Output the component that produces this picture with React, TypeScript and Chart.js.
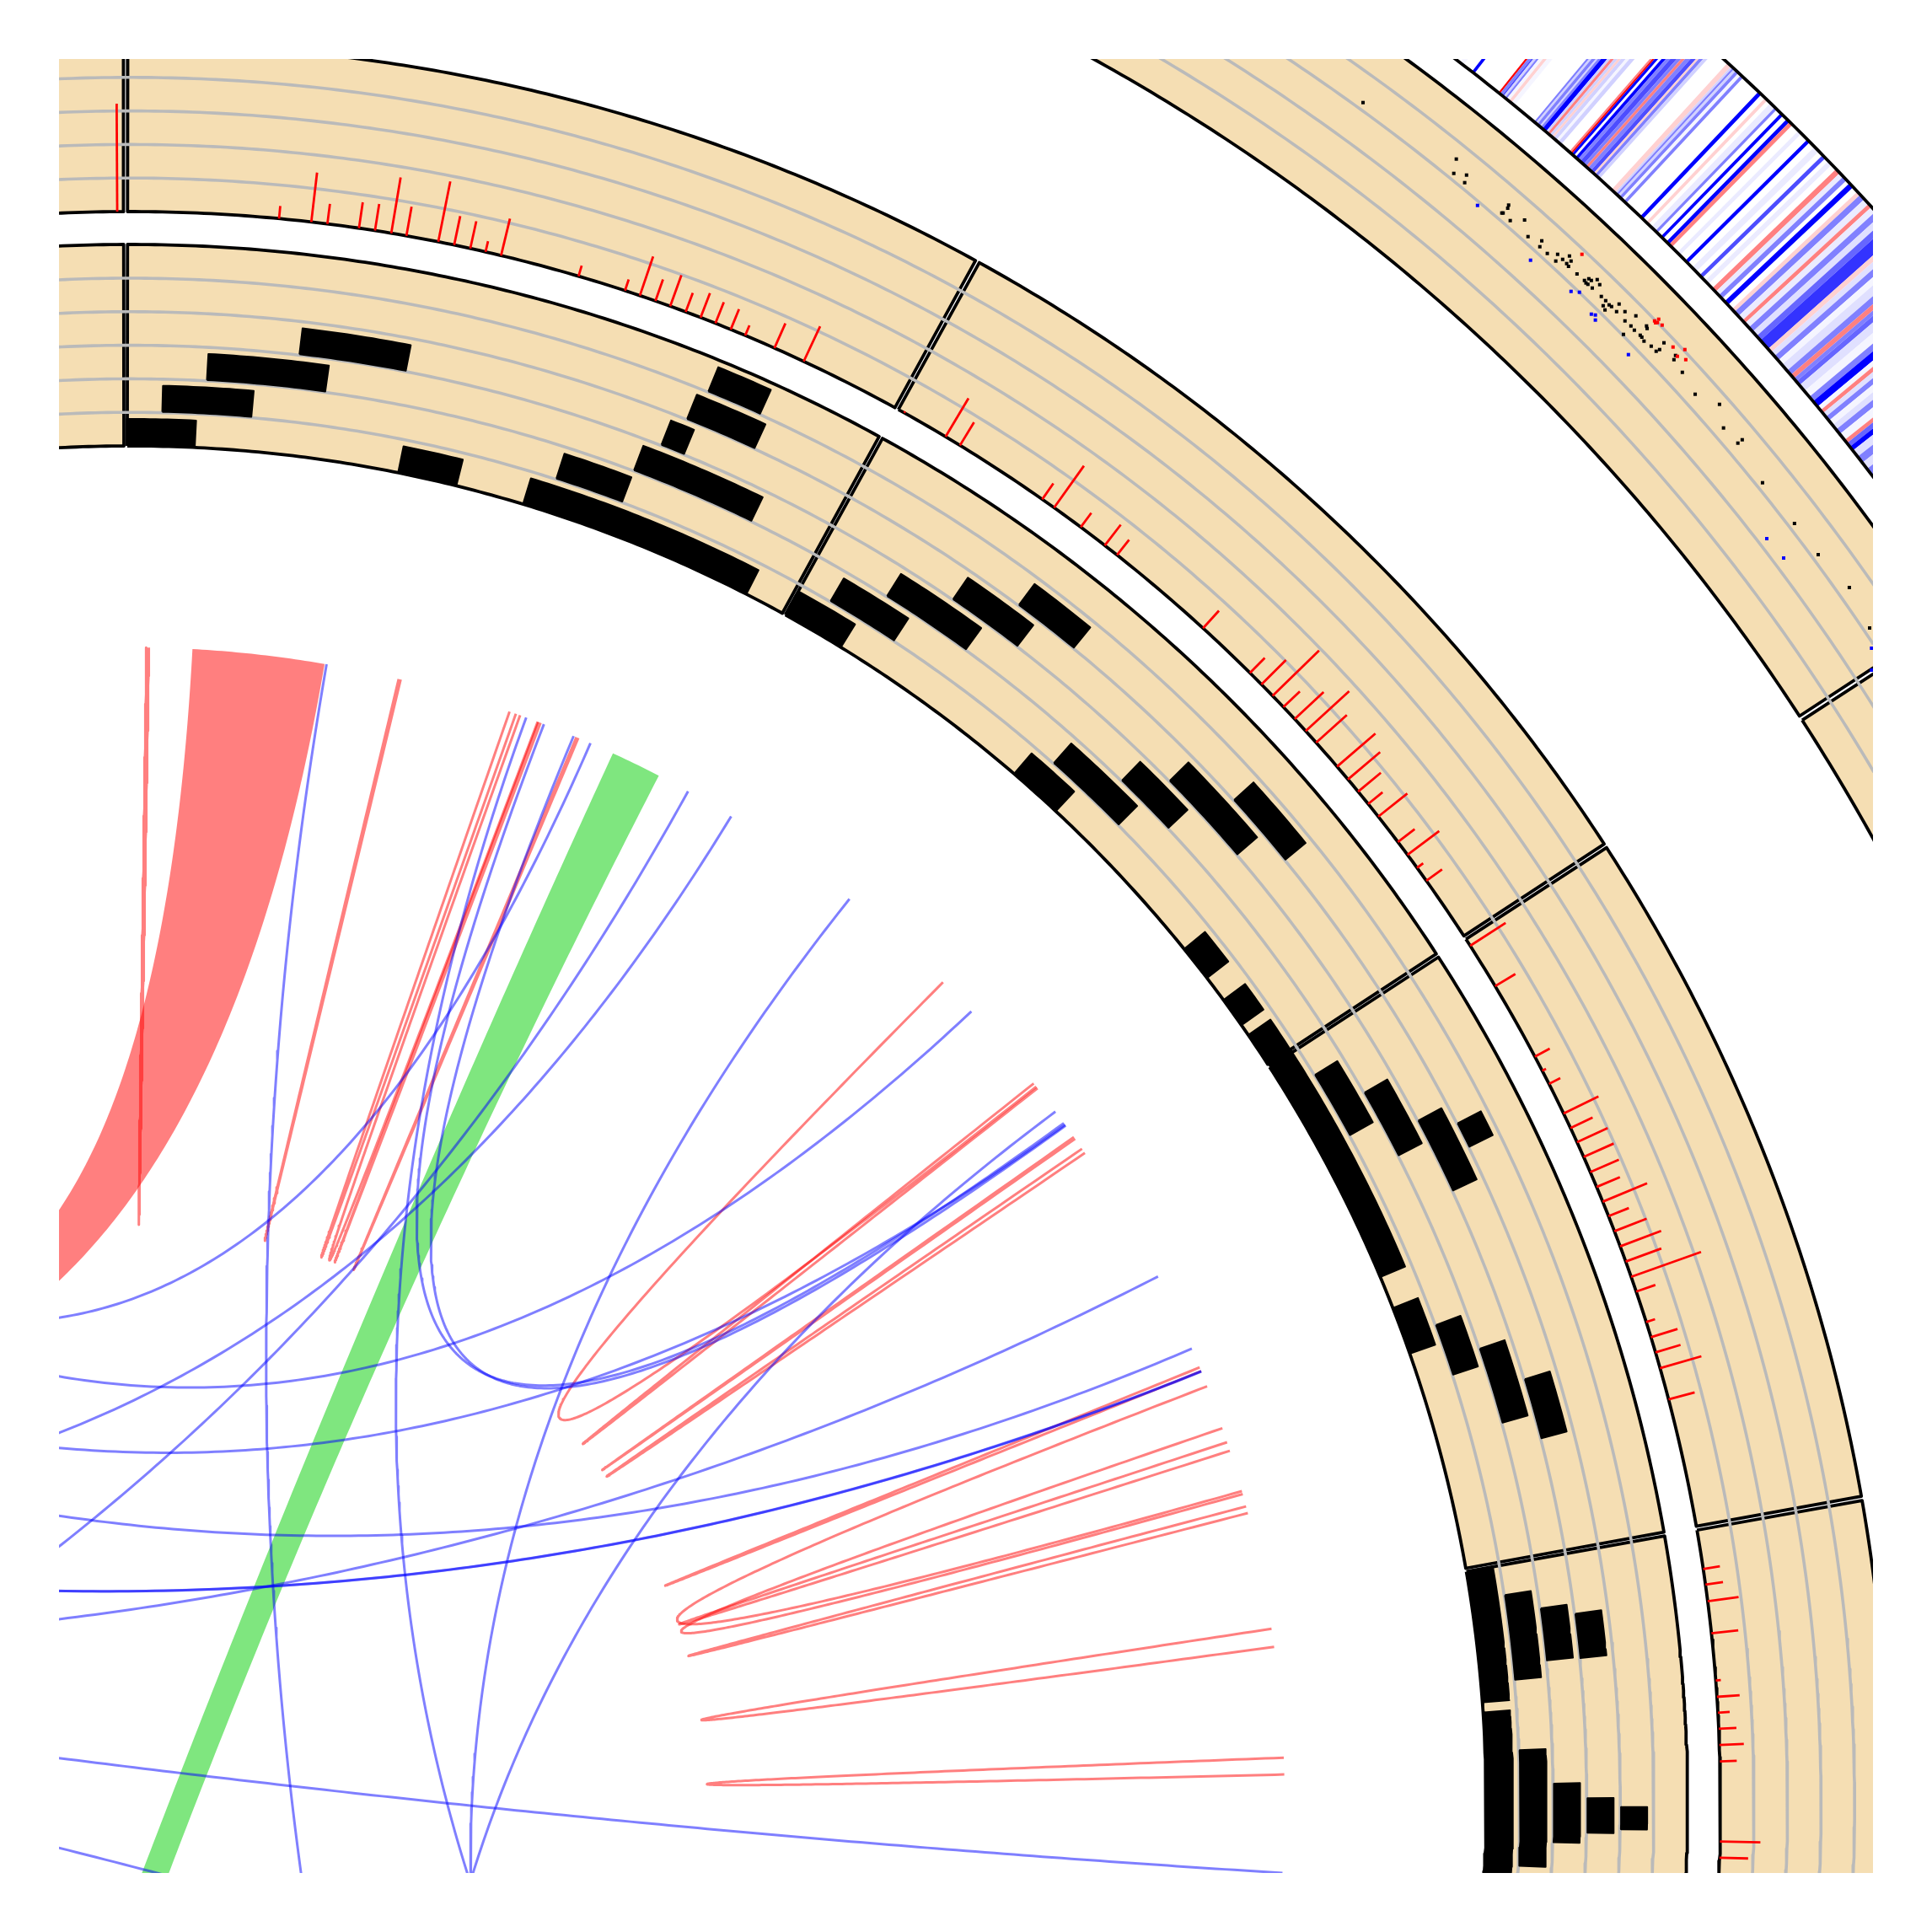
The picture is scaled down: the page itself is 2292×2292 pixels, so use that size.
import React, { useEffect, useRef } from "react";
import { Chart, registerables } from "chart.js";

Chart.register(...registerables);

// ---- geometry: rings are circles about the chart origin; angles are read as bearings
// from the point where the sector dividers meet (readingOrigin, slightly off the ring centre)
const readingOrigin = { x: -5, y: -12 };
const sectorBreaks = [-12, 0, 28.78, 56.85, 79.75, 102];
const track1Radii = [1609, 1648.8, 1688.6, 1728.4, 1768.2, 1808, 1848];
const track2Radii = [1887, 1926.8, 1966.6, 2006.4, 2046.2, 2086];
const track3Radii = [2363, 2403, 2443, 2483, 2523, 2563];
const track3Sectors = [24, 56.85, 70];
const heatInner = 2598;
const heatOuter = 2802;

// ---- black histogram tiles of track 1
const barStart = [0.05, 11.5, 16.9, 28.85, 40.55, 50.8, 53.5, 55.3, 56.85, 68.3, 79.85, 85.79,
  1.5, 17.9, 30.2, 41.5, 58.2, 69.6, 81.05, 87.45,
  3.25, 20.75, 32.05, 44, 59.85, 71.1, 81.8, 88.85,
  6.8, 21.4, 34.3, 45.35, 61.85, 72.8, 82.2, 89.45,
  21.95, 36.5, 47.6, 62.65, 89.8,
  22.3];
const barEnd = [2.9, 14, 27, 31.55, 42.9, 52.35, 54.8, 56.85, 66.9, 70.35, 85.37, 93,
  5.15, 20.75, 33.25, 45.15, 61.05, 71.75, 84.55, 92.2,
  8, 25.85, 35.85, 46.65, 62.7, 74.2, 83.9, 91.2,
  11, 22.35, 37.4, 49.25, 64.9, 75.2, 83.95, 90.8,
  24.75, 39.15, 50.6, 63.65, 90.65,
  24.4];
const barLevel = [0, 0, 0, 0, 0, 0, 0, 0, 0, 0, 0, 0,
  1, 1, 1, 1, 1, 1, 1, 1,
  2, 2, 2, 2, 2, 2, 2, 2,
  3, 3, 3, 3, 3, 3, 3, 3,
  4, 4, 4, 4, 4,
  5];

// ---- red histogram spikes of track 2
const spikeAngle = [-0.3, 5.5, 6.66, 7.24, 8.38, 8.96, 9.55, 10.1, 11.26, 11.84, 12.43, 12.99, 13.56,
  16.43, 18.17, 18.73, 19.32, 19.88, 20.47, 21.04, 21.61, 22.2, 22.76, 23.9, 25.05,
  29.09, 30.8, 31.4, 34.92, 35.44, 36.62, 37.7, 38.26, 42.3, 44.62, 45.2, 45.77, 46.33, 46.92, 47.5, 48.06,
  49.2, 49.8, 50.37, 50.94, 51.52, 52.67, 53.24, 53.82, 54.39,
  57.2, 58.9, 61.8, 62.37, 62.9, 64.08, 64.66, 65.22, 65.8, 66.39, 66.97, 67.54, 68.1, 68.68, 69.26, 69.84,
  70.42, 70.98, 72.13, 72.7, 73.27, 73.86, 75.02,
  81.23, 81.8, 82.4, 83.56, 85.26, 85.85, 86.42, 87, 87.58, 88.17, 91.05, 91.63];
const spikeHeight = [128, 15, 59, 24, 31, 32, 67, 35, 73, 35, 33, 13, 45,
  13, 14, 49, 27, 39, 24, 31, 27, 26, 13, 32, 46,
  2, 53, 32, 23, 61, 21, 31, 23, 28, 25, 41, 77, 27, 47, 70, 49,
  60, 50, 35, 22, 44, 25, 47, 9, 23,
  50, 28, 20, 5, 15, 46, 29, 40, 39, 37, 30, 57, 26, 41, 52, 45,
  88, 24, 11, 33, 31, 51, 32,
  20, 21, 37, 32, 6, 27, 14, 21, 29, 20, 48, 34];

// ---- scatter of track 3, as read (x stretched, origin at the reading origin)
const blackX = [1475.4, 1586.6, 1583.6, 1598.8, 1596.6, 1649, 1647.9, 1640.9, 1642.4, 1650.9, 1668, 1672.1, 1688.5, 1686.2,
  1695.1, 1707.4, 1705.2, 1713.4, 1721.5, 1723.4, 1718.2, 1720.4, 1730.5, 1739.4, 1744.6, 1747.6, 1754.6, 1741.2, 1743.5,
  1757.6, 1748.7, 1759.5, 1764.7, 1761.7, 1768.8, 1771.7, 1780.7, 1763.9, 1777.7, 1787.7, 1800.7, 1787.7, 1794.8, 1798.9,
  1813.4, 1814.1, 1785.9, 1805.9, 1807.8, 1810.4, 1834.2, 1819, 1829, 1824.9, 1848, 1846.1, 1856.1, 1871.4, 1900.4, 1905.2,
  1927.5, 1922.3, 1951.7, 1989.8, 2018.1, 2055.2, 2079.4];
const blackY = [2028.3, 1961.3, 1944.3, 1942.3, 1933.3, 1906.7, 1903, 1897.3, 1897.3, 1888.3, 1889, 1869.3, 1864.3, 1857.3,
  1849.3, 1848.3, 1840.3, 1842.3, 1846.3, 1840.3, 1837.3, 1834, 1825, 1817.3, 1819.3, 1817.3, 1818.3, 1814.3, 1812.7,
  1812.3, 1808.3, 1798.3, 1793.3, 1787.3, 1788.3, 1786.3, 1789.3, 1782.3, 1780.3, 1780.3, 1775.3, 1769.3, 1763.3, 1758.3,
  1763.3, 1760.3, 1753.3, 1752.3, 1750, 1745.3, 1743.3, 1739.3, 1735.3, 1733.3, 1728.3, 1723.3, 1708.3, 1682.3, 1670.3, 1642.3,
  1628.3, 1624.3, 1577.3, 1529, 1492, 1453, 1405];
const redX = [1736.4, 1823, 1827.9, 1826.4, 1824.2, 1832, 1845, 1859.1, 1850.2, 1860.2];
const redY = [1848.3, 1769.3, 1771.3, 1767.3, 1767, 1764.3, 1738.3, 1735.3, 1727.3, 1723.3];
const blueX = [1611.9, 1675.1, 1723.4, 1733.4, 1747.6, 1752.4, 1752.4, 1791.8, 1956.8, 1976.9, 2081.7, 2081.7];
const blueY = [1906.3, 1841.3, 1804.3, 1803.3, 1777.3, 1776.3, 1770.3, 1729.3, 1511, 1488, 1381, 1355];

// ---- heat map of track 4: each run lasts until the next start. <0 blue, >0 red
const heatStart = [37.32, 37.44, 37.72, 37.8, 38.6, 38.65, 38.72, 38.76, 38.82, 38.87, 38.95, 39.03, 39.14,
  39.8, 39.85, 39.9, 39.98, 40.02, 40.08, 40.2, 40.26, 40.33, 40.4, 40.46, 40.55, 40.62, 40.72,
  41, 41.05, 41.09, 41.16, 41.22, 41.3, 41.38, 41.5, 41.58, 41.65, 41.75, 41.85, 41.9, 41.98, 42.06,
  42.48, 42.6, 42.65, 42.7, 42.76, 42.84, 42.92, 43, 43.5, 43.6, 43.72, 43.8, 43.9, 44.05, 44.12, 44.25, 44.33,
  44.45, 44.55, 44.65, 44.85, 44.95, 45.15, 45.24, 45.4, 45.55, 45.68, 45.78, 45.88, 46, 46.15, 46.28, 46.4, 46.52,
  46.62, 46.75, 46.9, 47, 47.15, 47.3, 47.4, 47.55, 47.7, 47.85, 48, 48.3, 48.42, 48.55, 48.7, 48.85, 49.05, 49.2,
  49.32, 49.42, 49.55, 49.75, 49.95, 50.1, 50.28, 50.4, 50.5, 50.62, 50.75, 50.9, 51.05, 51.2, 51.4, 51.5, 51.62,
  51.75, 51.95, 52.15, 52.35, 52.6, 53.4];
const heatValue = [-0.04, 0, -1, 0, 1, -0.5, -0.7, -0.18, -0.5, -0.04, 0.18, -0.04, 0,
  -0.5, -0.18, -0.5, -0.18, -0.5, -1, -0.18, 0.5, -0.18, 0.18, -0.18, -0.04, -0.18, 0,
  0.5, 1, -1, -0.04, -1, -0.5, -0.7, -0.5, 0.5, -0.5, -0.7, 0.18, -0.5, -0.18, 0,
  0.18, -0.18, -0.5, -0.18, -0.5, -0.04, -0.5, 0, -1, 0, 0.18, 0, -0.08, -0.5, 0, -1, 0,
  -1, 0.5, 0, -0.08, 0, -1, 0, -0.08, 0, -0.7, 0, -0.08, 0, 0.5, -0.08, -0.5, 0,
  -1, 0, 0.18, -0.5, -0.08, 0.5, -0.08, -0.5, -0.12, -0.6, -0.8, 0.18, -0.12, -0.5, -0.04, -0.12, -0.5, 0.5,
  -0.5, -0.6, -0.12, -0.04, -0.5, -1, -0.04, 0.5, -0.12, -0.5, -0.04, -0.12, -0.5, -0.04, 0.5, -0.6, -1,
  -0.12, -0.5, -0.12, -0.5, -0.04, 0];

// ---- links
const linkRadius = 1370;
const blueLinkFrom = [9.93, 20.1, 21.03, 22.6, 23.5, 28.85, 31.3, 38.4, 46.56, 53, 53.8, 62.57, 66.5, 67.7, 67.72, 93, -81.2];
const blueLinkTo = [157, 135, 53.7, 53.85, -40, -100, -68, 145.5, -40.5, 158.5, -50.8, -78, -55.5, -68.5, -68.5, -79, 110];
const redLinkFrom = [1.03, 13.55, 19.23, 19.78, 20.75, 22.75, 44.56, 51.25, 54.55, 55.25, 67.5, 68.5, 70.7, 71.43, 74.73, 80.9, 87.3];
const redLinkTo = [1.15, 13.65, 19.56, 20.7, 20.85, 22.85, 51.45, 51.55, 54.65, 55.5, 67.7, 73.95, 74.1, 71.87, 75.07, 81.8, 88.13];
const ribbonA = [3.29, 9.83, -58, -45.8];
const ribbonB = [24.71, 27.22, 194.9, 197.4];

const WHEAT = "#f5deb3";
const GREY = "#bababa";

function toXY(angle: number, r: number) {
  const t = (angle * Math.PI) / 180;
  const ux = Math.sin(t);
  const uy = Math.cos(t);
  const d = readingOrigin.x * ux + readingOrigin.y * uy;
  const o2 = readingOrigin.x * readingOrigin.x + readingOrigin.y * readingOrigin.y;
  const s = -d + Math.sqrt(d * d - o2 + r * r);
  return { x: readingOrigin.x + s * ux, y: readingOrigin.y + s * uy };
}
function arc(from: number, to: number, r: number) {
  const n = Math.max(2, Math.ceil(Math.abs(to - from) / 0.25));
  const out = [];
  for (let i = 0; i <= n; i++) out.push(toXY(from + ((to - from) * i) / n, r));
  return out;
}
function link(a: number, b: number, r: number, n = 240) {
  const p = toXY(a, r);
  const q = toXY(b, r);
  const out = [];
  for (let i = 0; i <= n; i++) {
    const t = i / n;
    const u = (1 - t) * (1 - t);
    const v = t * t;
    out.push({ x: u * p.x + v * q.x, y: u * p.y + v * q.y });
  }
  return out;
}
function band(from: number, to: number, r0: number, r1: number) {
  const pts = [...arc(from, to, r0), ...arc(to, from, r1)];
  pts.push(pts[0]);
  return pts;
}
function heatColor(v: number) {
  const k = Math.round(255 * (1 - Math.abs(v)));
  return v < 0 ? `rgb(${k},${k},255)` : `rgb(255,${k},${k})`;
}

function buildDatasets() {
  const ds: any[] = [];
  const stroke = (data: any[], color: string, width: number) =>
    ds.push({ data, showLine: true, fill: false, borderColor: color, borderWidth: width, pointRadius: 0, clip: 0, borderJoinStyle: "round" });
  const poly = (data: any[], color: string, edge: string, width: number) =>
    ds.push({ data, showLine: true, fill: "shape", backgroundColor: color, borderColor: edge, borderWidth: width, pointRadius: 0, clip: 0, borderJoinStyle: "round" });
  const dots = (xs: number[], ys: number[], color: string) =>
    ds.push({ data: xs.map((x, i) => ({ x: x * 0.995 - 5, y: ys[i] - 12 })), showLine: false, pointStyle: "rect", pointRadius: 2.85, pointBorderWidth: 0, pointBackgroundColor: color, clip: 0 });

  const gap = 0.07;
  const [r1, r2, r3, r4] = ribbonA;
  poly([...link(r1, r4, linkRadius), ...arc(r4, r3, linkRadius), ...link(r3, r2, linkRadius), ...arc(r2, r1, linkRadius)], "rgba(255,0,0,0.5)", "rgba(0,0,0,0)", 0);
  const [g1, g2, g3, g4] = ribbonB;
  poly([...link(g1, g4, linkRadius), ...arc(g4, g3, linkRadius), ...link(g3, g2, linkRadius), ...arc(g2, g1, linkRadius)], "rgba(0,205,0,0.5)", "rgba(0,0,0,0)", 0);
  redLinkFrom.forEach((a, i) => stroke(link(a, redLinkTo[i], linkRadius), "rgba(255,0,0,0.5)", 3));
  blueLinkFrom.forEach((a, i) => stroke(link(a, blueLinkTo[i], linkRadius), "rgba(0,0,255,0.5)", 3));

  for (let s = 0; s + 1 < sectorBreaks.length; s++) {
    const from = sectorBreaks[s] + gap;
    const to = sectorBreaks[s + 1] - gap;
    poly(band(from, to, track1Radii[0], track1Radii[6]), WHEAT, "#000", 3.8);
    poly(band(from, to, track2Radii[0], track2Radii[5]), WHEAT, "#000", 3.8);
  }
  for (let s = 0; s + 1 < track3Sectors.length; s++) {
    poly(band(track3Sectors[s] + gap, track3Sectors[s + 1] - gap, track3Radii[0], track3Radii[5]), WHEAT, "#000", 3.8);
  }
  for (const r of track1Radii.slice(1, 6)) stroke(arc(-12, 102, r), GREY, 3.6);
  for (const r of track2Radii.slice(1, 5)) stroke(arc(-12, 102, r), GREY, 3.6);
  for (const r of track3Radii.slice(1, 5)) stroke(arc(24, 70, r), GREY, 3.6);

  barStart.forEach((a, i) => {
    const base = track1Radii[barLevel[i]];
    poly(band(a, barEnd[i], base + 1, base + 32), "#000", "#000", 2);
  });
  spikeAngle.forEach((a, i) => stroke([toXY(a, track2Radii[0]), toXY(a, track2Radii[0] + spikeHeight[i])], "#ff0000", 2.8));
  dots(blackX, blackY, "#000");
  dots(redX, redY, "#ff0000");
  dots(blueX, blueY, "#0000ff");
  for (let i = 0; i + 1 < heatStart.length; i++) {
    if (heatValue[i] === 0) continue;
    const c = heatColor(heatValue[i]);
    poly(band(heatStart[i], heatStart[i + 1], heatInner, heatOuter), c, c, 0);
  }
  stroke(arc(30, 60, heatInner), "#000", 3.8);
  stroke(arc(30, 60, heatOuter), "#000", 3.8);

  ds.forEach((d, i) => (d.order = -i));
  return ds;
}

export default function App() {
  const ref = useRef<HTMLCanvasElement | null>(null);
  useEffect(() => {
    if (!ref.current) return;
    const chart = new Chart(ref.current, {
      type: "scatter",
      data: { datasets: buildDatasets() },
      options: {
        animation: false,
        responsive: false,
        devicePixelRatio: 1,
        events: [],
        layout: { padding: { left: 70, top: 70, right: 70, bottom: 70 } },
        plugins: { legend: { display: false }, title: { display: false }, tooltip: { enabled: false } },
        scales: {
          x: { type: "linear", display: false, min: -84, max: 2068 },
          y: { type: "linear", display: false, min: -84, max: 2068 },
        },
      },
    } as any);
    return () => chart.destroy();
  }, []);
  return <canvas ref={ref} width={2292} height={2292} style={{ position: "absolute", left: 0, top: 0, display: "block" }} />;
}
